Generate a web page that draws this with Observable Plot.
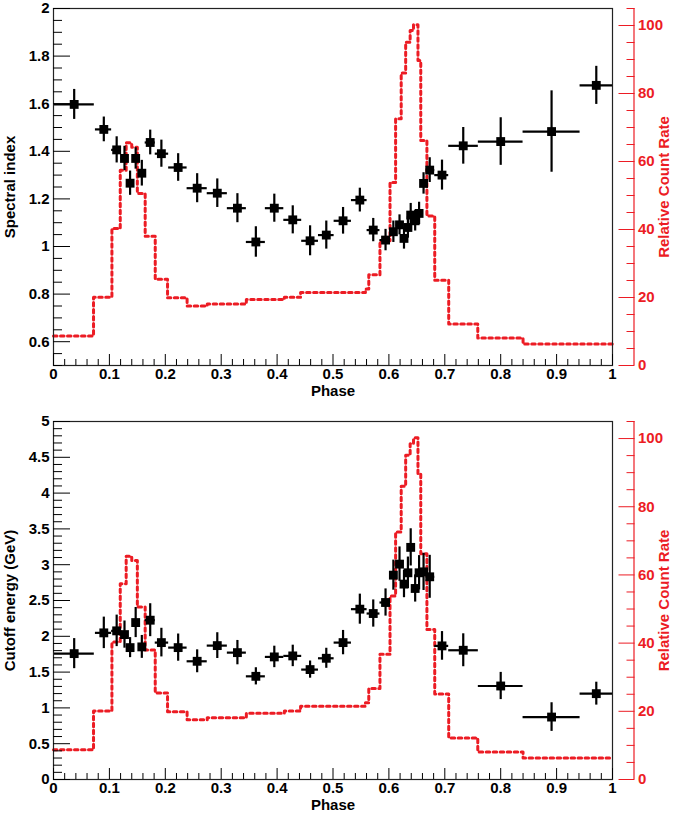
<!DOCTYPE html>
<html><head><meta charset="utf-8">
<script src="https://cdn.jsdelivr.net/npm/d3@7"></script>
<script src="https://cdn.jsdelivr.net/npm/@observablehq/plot@0.6"></script>
<style>
body{margin:0;background:#fff}
#chart svg{display:block;overflow:visible;font:bold 15px 'Liberation Sans', Arial, Helvetica, sans-serif !important;}
#chart svg text{font-weight:bold;}
</style>
</head><body><div id="chart"></div>
<script>
// ---- data ----
const phase   = [0.037,0.090,0.113,0.127,0.137,0.147,0.158,0.173,0.193,0.223,0.257,0.293,0.329,0.362,0.395,0.428,0.459,0.488,0.518,0.548,0.572,0.594,0.608,0.619,0.627,0.634,0.639,0.647,0.654,0.662,0.673,0.695,0.733,0.800,0.891,0.971];
const phaseLo = [0,0.075,0.104,0.121,0.132,0.142,0.152,0.164,0.182,0.206,0.239,0.275,0.311,0.345,0.379,0.412,0.444,0.474,0.502,0.533,0.561,0.584,0.602,0.613,0.623,0.631,0.637,0.643,0.650,0.657,0.667,0.682,0.707,0.760,0.840,0.942];
const phaseHi = [0.073,0.104,0.121,0.132,0.142,0.152,0.164,0.182,0.206,0.239,0.275,0.311,0.345,0.379,0.412,0.444,0.474,0.502,0.533,0.561,0.584,0.602,0.613,0.623,0.631,0.637,0.643,0.650,0.657,0.667,0.682,0.707,0.760,0.840,0.942,1.0];
const specIndex    = [1.597,1.492,1.406,1.370,1.266,1.370,1.308,1.437,1.390,1.332,1.245,1.224,1.161,1.019,1.161,1.112,1.024,1.048,1.108,1.195,1.069,1.027,1.062,1.091,1.034,1.080,1.132,1.108,1.139,1.265,1.321,1.300,1.423,1.441,1.483,1.677];
const specIndexErr = [0.063,0.052,0.055,0.051,0.051,0.045,0.054,0.052,0.057,0.058,0.061,0.060,0.061,0.064,0.059,0.059,0.063,0.059,0.056,0.050,0.049,0.045,0.045,0.042,0.045,0.045,0.049,0.043,0.047,0.045,0.052,0.063,0.077,0.100,0.171,0.080];
const cutoffE   = [1.758,2.048,2.076,2.024,1.842,2.192,1.852,2.225,1.912,1.842,1.651,1.870,1.772,1.441,1.712,1.726,1.535,1.693,1.912,2.379,2.318,2.472,2.854,3.008,2.729,2.887,3.242,2.668,2.887,2.900,2.831,1.866,1.805,1.306,0.872,1.199];
const cutoffErr = [0.21,0.22,0.22,0.19,0.14,0.21,0.16,0.23,0.20,0.19,0.16,0.18,0.17,0.12,0.15,0.15,0.12,0.14,0.17,0.21,0.19,0.19,0.21,0.24,0.19,0.22,0.26,0.19,0.24,0.26,0.30,0.20,0.23,0.19,0.20,0.16];
// light curve histogram (relative count rate), bin edges and contents
const histEdges = [0,0.0716,0.1045,0.1194,0.130,0.140,0.150,0.164,0.182,0.204,0.239,0.275,0.345,0.413,0.442,0.558,0.564,0.584,0.602,0.612,0.622,0.630,0.638,0.644,0.652,0.657,0.668,0.682,0.707,0.759,0.840,1.0];
const histRate  = [8.7,20.1,40.3,57.4,65.5,64.2,50.6,38.0,25.4,19.9,17.5,18.1,19.4,20.1,21.5,22.5,26.7,36.7,53.8,72.6,86.0,95.1,98.5,100.2,89.7,66.2,44.0,25.1,12.2,8.1,6.3];
// tick labels
const xTickLabels      = [0,0.1,0.2,0.3,0.4,0.5,0.6,0.7,0.8,0.9,1];
const indexTickLabels  = [0.6,0.8,1,1.2,1.4,1.6,1.8,2];
const cutoffTickLabels = [0,0.5,1,1.5,2,2.5,3,3.5,4,4.5,5];
const rateTickLabels   = [0,20,40,60,80,100];
const RATE_MAX = 105;

const RED = "#ec1c24";
const FONT = {fontSize: 15, fontWeight: "bold", fontFamily: "'Liberation Sans', Arial, Helvetica, sans-serif"};
const fmt = d => String(+(+d).toFixed(2));
const near = (a, list) => list.some(b => Math.abs(a - b) < 1e-6);

function panel({height, marginTop, marginBottom, domain, yMajor, yMinorStep, values, errs, ylabel}) {
  const [lo, hi] = domain;
  const toY = v => lo + v / RATE_MAX * (hi - lo);
  const fromY = y => (y - lo) / (hi - lo) * RATE_MAX;
  const pts = phase.map((p, i) => ({p, xlo: phaseLo[i], xhi: phaseHi[i], v: values[i], e: errs[i]}));
  const hist = histRate.map((r, i) => ({x: histEdges[i], y: toY(r)}));
  hist.push({x: histEdges[histEdges.length - 1], y: toY(histRate[histRate.length - 1])});

  const xMinor = d3.range(0, 1.0001, 0.02).filter(v => !near(v, xTickLabels));
  const yMinor = d3.range(lo, hi + 1e-9, yMinorStep).filter(v => !near(v, yMajor));
  const rMinor = d3.range(0, RATE_MAX + 1e-9, 5).filter(v => !near(v, rateTickLabels)).map(toY);

  return Plot.plot({
    width: 675, height, marginLeft: 53, marginRight: 63, marginTop, marginBottom,
    x: {domain: [0, 1]},
    y: {domain},
    marks: [
      // red light-curve histogram
      Plot.line(hist, {x: "x", y: "y", curve: "step-after", stroke: RED, strokeWidth: 3, strokeDasharray: "3.5,3.5"}),
      // error bars
      Plot.ruleY(pts, {y: "v", x1: "xlo", x2: "xhi", stroke: "#000", strokeWidth: 2.2}),
      Plot.ruleX(pts, {x: "p", y1: d => d.v - d.e, y2: d => d.v + d.e, stroke: "#000", strokeWidth: 2.2}),
      Plot.dot(pts, {x: "p", y: "v", symbol: "square", r: 5, fill: "#000", stroke: "none"}),
      Plot.frame({stroke: "#222", strokeWidth: 1.2}),
      // x axis (inside ticks)
      Plot.axisX(xMinor, {anchor: "bottom", tickSize: 6, dy: -6, tickFormat: () => "", label: null}),
      Plot.axisX(xTickLabels, {anchor: "bottom", tickSize: 11, dy: -11, tickPadding: 3, tickFormat: fmt, label: null, ...FONT}),
      // left y axis (inside ticks)
      Plot.axisY(yMinor, {anchor: "left", tickSize: 9, dx: 9, tickFormat: () => "", label: null}),
      Plot.axisY(yMajor, {anchor: "left", tickSize: 17, dx: 17, tickPadding: 4, tickFormat: fmt, label: null, ...FONT}),
      // right red axis (relative count rate)
      Plot.ruleX([1], {dx: 21.5, stroke: RED, strokeWidth: 1.2}),
      Plot.axisY(rMinor, {anchor: "right", tickSize: 8, dx: 13.5, color: RED, tickFormat: () => "", label: null}),
      Plot.axisY(rateTickLabels.map(toY), {anchor: "right", tickSize: 16, dx: 5.5, tickPadding: 4, color: RED, tickFormat: y => String(Math.round(fromY(y))), label: null, ...FONT}),
      // titles
      Plot.text(["Phase"], {text: d => d, frameAnchor: "bottom", textAnchor: "middle", dy: 30, fill: "#000", ...FONT}),
      Plot.text([ylabel], {text: d => d, frameAnchor: "left", textAnchor: "middle", dx: -43, rotate: -90, fill: "#000", ...FONT}),
      Plot.text(["Relative Count Rate"], {text: d => d, frameAnchor: "right", textAnchor: "middle", dx: 52, rotate: -90, fill: RED, ...FONT})
    ]
  });
}

const chart = document.getElementById("chart");
chart.append(panel({height: 409, marginTop: 8, marginBottom: 44, domain: [0.5, 2], yMajor: indexTickLabels, yMinorStep: 0.05, values: specIndex, errs: specIndexErr, ylabel: "Spectral index"}));
chart.append(panel({height: 410, marginTop: 12, marginBottom: 40, domain: [0, 5], yMajor: cutoffTickLabels, yMinorStep: 0.1, values: cutoffE, errs: cutoffErr, ylabel: "Cutoff energy (GeV)"}));
</script>
</body></html>
